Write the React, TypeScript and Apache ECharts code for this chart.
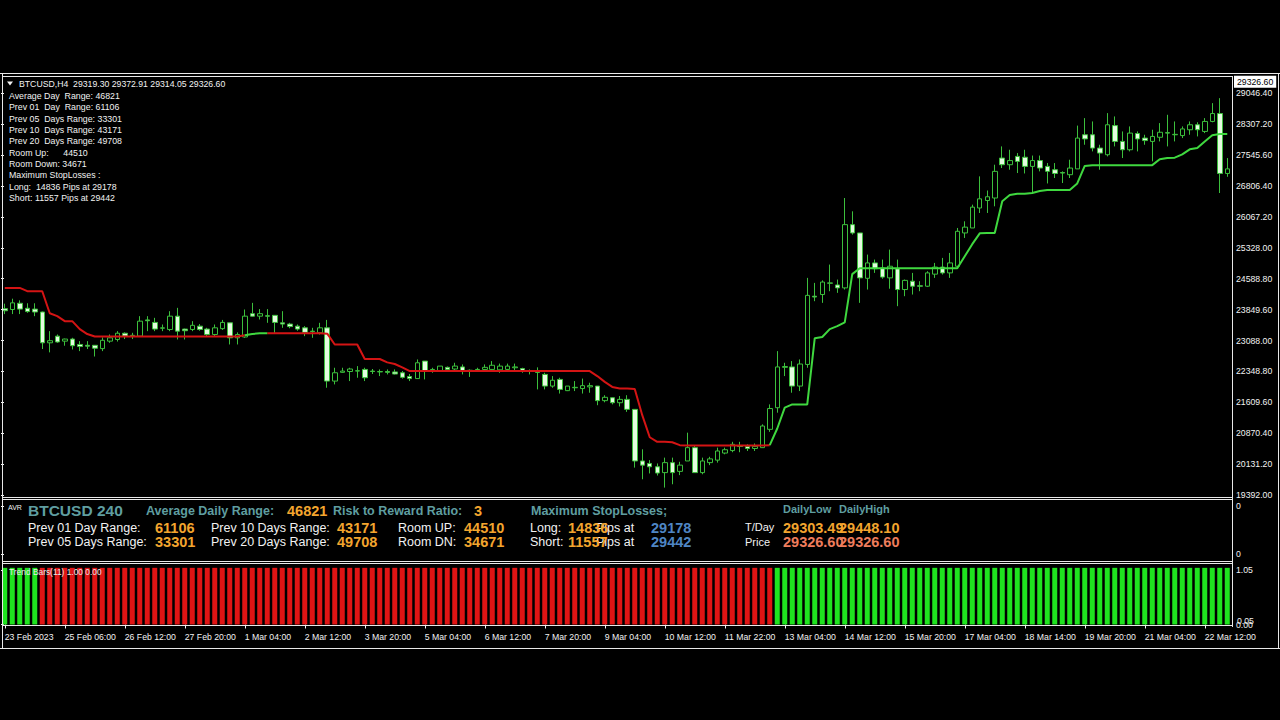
import { useEffect, useRef } from 'react';
import * as echarts from 'echarts';

// ---- instrument / last bar ----
const symbolName = 'BTCUSD';
const periodName = 'H4';
const periodMinutes = 240;
const lastBar = [29319.3, 29372.91, 29314.05, 29326.6]; // open, high, low, close

// ---- time axis: one label every 8 bars ----
const labelEvery = 8;
const timeLabels = [
  '23 Feb 2023', '25 Feb 06:00', '26 Feb 12:00', '27 Feb 20:00', '1 Mar 04:00', '2 Mar 12:00',
  '3 Mar 20:00', '5 Mar 04:00', '6 Mar 12:00', '7 Mar 20:00', '9 Mar 04:00', '10 Mar 12:00',
  '11 Mar 22:00', '13 Mar 04:00', '14 Mar 12:00', '15 Mar 20:00', '17 Mar 04:00', '18 Mar 14:00',
  '19 Mar 20:00', '21 Mar 04:00', '22 Mar 12:00',
];

// ---- price scale labels (bottom to top) ----
const priceTicks = [
  '19392.00', '20131.20', '20870.40', '21609.60', '22348.80', '23088.00', '23849.60',
  '24588.80', '25328.00', '26067.20', '26806.40', '27545.60', '28307.20', '29046.40',
];

// ---- candles ----
const opens = [
  23870, 23850, 24000, 23880, 23860, 23790, 23050, 23210, 23090, 23140, 23010, 22990, 22990, 22910, 23090, 23130,
  23280, 23220, 23210, 23600, 23540, 23400, 23370, 23690, 23380, 23370, 23450, 23380, 23250, 23390, 23530, 23170,
  23190, 23750, 23690, 23700, 23710, 23530, 23500, 23450, 23410, 23330, 23290, 23410, 22130, 22340, 22360, 22370,
  22410, 22370, 22350, 22360, 22350, 22330, 22240, 22190, 22610, 22400, 22380, 22460, 22420, 22470, 22390, 22400,
  22410, 22410, 22400, 22410, 22450, 22430, 22370, 22350, 22290, 22010, 22170, 21900, 21970, 21950, 21990, 22010,
  21660, 21730, 21610, 21690, 21450, 20210, 20150, 20070, 19930, 20170, 19960, 20210, 20530, 19930, 20170, 20230,
  20400, 20460, 20570, 20560, 20510, 20530, 20970, 21490, 22460, 22470, 22010, 22530, 24170, 24210, 24480, 24440,
  24370, 25890, 25690, 24600, 24970, 24850, 24610, 24830, 24330, 24530, 24420, 24410, 24700, 24870, 24730, 24890,
  25690, 25810, 26290, 26470, 26530, 27490, 27330, 27530, 27510, 27290, 27430, 27290, 27210, 27140, 27090, 27230,
  28050, 28050, 27730, 27570, 28270, 27890, 27690, 28080, 27970, 27890, 27990, 28100, 28050, 28030, 28170, 28290,
  28130, 28370, 28560, 27120,
];
const highs = [
  23990, 24110, 24070, 24000, 24000, 23800, 23330, 23250, 23150, 23170, 23090, 23090, 22990, 23180, 23250, 23330,
  23300, 23290, 23690, 23690, 23650, 23490, 23810, 23890, 23390, 23570, 23500, 23410, 23490, 23600, 23530, 23300,
  23850, 24010, 23860, 23860, 23710, 23810, 23530, 23490, 23450, 23410, 23530, 23600, 22450, 22450, 22450, 22490,
  22450, 22420, 22410, 22410, 22410, 22370, 22300, 22650, 22610, 22450, 22490, 22480, 22570, 22530, 22410, 22450,
  22530, 22610, 22550, 22550, 22550, 22450, 22410, 22460, 22330, 22250, 22210, 22010, 22130, 22190, 22090, 22010,
  21790, 21740, 21770, 21790, 21450, 20490, 20230, 20150, 20290, 20290, 20190, 20890, 20570, 20290, 20310, 20530,
  20530, 20670, 20670, 20610, 20630, 21090, 21570, 22850, 22570, 22610, 22650, 24610, 24490, 24550, 24930, 24570,
  26530, 26210, 25690, 25170, 25050, 25050, 25290, 25050, 24570, 24730, 24530, 24770, 24970, 25090, 25210, 25810,
  25970, 26370, 27050, 26710, 27330, 27770, 27690, 27610, 27690, 27550, 27550, 27370, 27370, 27170, 27450, 28270,
  28450, 28370, 27810, 28570, 28490, 28130, 28250, 28130, 28050, 28170, 28330, 28530, 28370, 28250, 28370, 28350,
  28450, 28810, 28930, 27490,
];
const lows = [
  23740, 23740, 23740, 23770, 23690, 22900, 22820, 23050, 22980, 22890, 22850, 22900, 22720, 22850, 23050, 23080,
  23140, 23140, 23190, 23330, 23330, 23330, 23330, 23130, 23130, 23330, 23340, 23210, 23210, 23360, 23010, 23010,
  23170, 23680, 23610, 23530, 23290, 23410, 23400, 23340, 23210, 23170, 23250, 21970, 22050, 22330, 22130, 22210,
  22130, 22300, 22250, 22290, 22290, 22190, 22130, 22190, 22170, 22330, 22370, 22390, 22350, 22290, 22230, 22370,
  22390, 22370, 22330, 22370, 22390, 22330, 22290, 21930, 21930, 21970, 21830, 21890, 21890, 21830, 21850, 21550,
  21620, 21570, 21520, 21390, 20050, 19770, 19910, 19860, 19570, 19650, 19870, 20210, 19930, 19890, 20110, 20170,
  20370, 20420, 20420, 20450, 20450, 20530, 20910, 21370, 22250, 21850, 21890, 22450, 24050, 24010, 24290, 24250,
  24330, 25650, 24010, 24330, 24730, 24590, 24350, 23930, 24170, 24210, 24290, 24390, 24610, 24690, 24610, 24850,
  25570, 25810, 26170, 26170, 26330, 27250, 27210, 27130, 27120, 26640, 27170, 26880, 27010, 26890, 27010, 27230,
  27810, 27650, 27210, 27530, 27770, 27490, 27650, 27650, 27810, 27410, 27890, 27770, 27890, 27970, 28050, 28010,
  28090, 28350, 26650, 27040,
];
const closes = [
  23820, 24010, 23860, 23800, 23790, 23050, 23100, 23070, 23140, 22980, 22960, 22970, 22920, 23110, 23170, 23280,
  23210, 23230, 23570, 23580, 23380, 23410, 23690, 23330, 23340, 23470, 23370, 23250, 23410, 23540, 23170, 23250,
  23690, 23690, 23750, 23690, 23540, 23500, 23440, 23380, 23300, 23320, 23410, 22130, 22330, 22370, 22420, 22380,
  22210, 22360, 22360, 22340, 22300, 22220, 22190, 22570, 22380, 22410, 22490, 22410, 22490, 22380, 22380, 22410,
  22460, 22510, 22490, 22490, 22470, 22380, 22360, 22340, 22010, 22150, 21930, 22010, 21980, 22020, 22020, 21660,
  21740, 21610, 21690, 21450, 20210, 20110, 20070, 19920, 20170, 19930, 20110, 20530, 19930, 20210, 20260, 20450,
  20480, 20610, 20560, 20510, 20560, 21050, 21470, 22470, 22480, 22010, 22540, 24190, 24150, 24510, 24490, 24370,
  25890, 25690, 24610, 24970, 24830, 24630, 24890, 24330, 24550, 24410, 24410, 24730, 24870, 24730, 24970, 25730,
  25830, 26310, 26510, 26560, 27170, 27330, 27430, 27410, 27290, 27430, 27250, 27170, 27120, 27130, 27250, 27970,
  27950, 27730, 27610, 28290, 27890, 27690, 28090, 27950, 27910, 28010, 28110, 28090, 28060, 28190, 28290, 28170,
  28370, 28560, 27120, 27230,
];

// ---- trend stop line (one level per bar) ----
const trendLine = [
  24370, 24370, 24370, 24290, 24290, 24290, 23760, 23690, 23570, 23570, 23380, 23260, 23200, 23200, 23200, 23200,
  23200, 23200, 23200, 23200, 23200, 23200, 23200, 23200, 23200, 23200, 23200, 23200, 23200, 23200, 23200, 23200,
  23230, 23260, 23280, 23280, 23280, 23280, 23280, 23280, 23280, 23280, 23280, 23270, 23010, 23010, 23010, 23010,
  22660, 22660, 22660, 22580, 22540, 22460, 22370, 22370, 22370, 22370, 22370, 22370, 22370, 22370, 22370, 22370,
  22370, 22370, 22370, 22370, 22370, 22370, 22370, 22370, 22370, 22370, 22370, 22370, 22370, 22370, 22370, 22250,
  22110, 21990, 21950, 21950, 21940, 21310, 20780, 20670, 20670, 20660, 20590, 20580, 20580, 20580, 20580, 20580,
  20580, 20580, 20580, 20580, 20580, 20580, 20590, 20990, 21490, 21570, 21570, 21570, 23160, 23190, 23380, 23450,
  23540, 24700, 24840, 24840, 24840, 24840, 24840, 24840, 24840, 24840, 24840, 24840, 24840, 24840, 24840, 24840,
  25130, 25420, 25680, 25690, 25690, 26450, 26600, 26630, 26630, 26650, 26700, 26720, 26720, 26720, 26720, 26880,
  27300, 27320, 27320, 27320, 27320, 27320, 27320, 27320, 27320, 27320, 27460, 27490, 27500, 27580, 27700, 27730,
  27890, 28040, 28070, 28070,
];
const lineDownRanges = [[0, 32], [35, 102]];
const lineUpRanges = [[32, 35], [102, 163]];

// ---- Trend Bars(11) state: up ranges, everything else down ----
const trendUpRanges = [[0, 4], [103, 163]];
const trendBarsParams = 'Trend Bars(11) 1.00 0.00';

// ---- range statistics ----
const avgDayRange = 46821;
const prevRangeDays = ['01', '05', '10', '20'];
const prevRanges = [61106, 33301, 43171, 49708];
const roomUp = 44510;
const roomDown = 34671;
const riskReward = 3;
const stopLong = [14836, 29178]; // pips, price
const stopShort = [11557, 29442];
const dailyLowHigh = [29303.49, 29448.1];
const priceLowHigh = [29326.6, 29326.6];

const inRanges = (i: number, ranges: number[][]) => ranges.some(([a, b]) => i >= a && i <= b);
const categories = opens.map((_, i) => (i % labelEvery === 0 ? timeLabels[i / labelEvery] ?? '' : ''));

const SANS = '"Liberation Sans", Arial, sans-serif';
const WHITE = '#f2f2f2';
const TEAL = '#5f9ea0';
const ORANGE = '#f3a52e';
const BLUE = '#4f86c4';
const CORAL = '#ef7d5c';
const CANDLE_GREEN = '#3cbf3c';

function txt(x: number, y: number, text: string, font: string, fill: string, extra: any = {}) {
  return {
    type: 'text',
    x,
    y,
    z: 10,
    silent: true,
    style: { text, font, fill, verticalAlign: 'middle', ...extra },
  };
}

function hline(x1: number, x2: number, y: number) {
  return {
    type: 'line',
    z: 5,
    silent: true,
    shape: { x1, y1: y, x2, y2: y },
    style: { stroke: '#e8e8e8', lineWidth: 1 },
  };
}
function vline(x: number, y1: number, y2: number) {
  return {
    type: 'line',
    z: 5,
    silent: true,
    shape: { x1: x, y1, x2: x, y2 },
    style: { stroke: '#e8e8e8', lineWidth: 1 },
  };
}

function buildOption() {
  const candleData = opens.map((o, i) => [o, closes[i], lows[i], highs[i]]);
  const downLine = trendLine.map((v, i) => (inRanges(i, lineDownRanges) ? v : null));
  const upLine = trendLine.map((v, i) => (inRanges(i, lineUpRanges) ? v : null));
  const trendBars = opens.map((_, i) => ({
    value: 1,
    itemStyle: { color: inRanges(i, trendUpRanges) ? '#1fe41f' : '#e01414' },
  }));

  // price axis geometry: label 0 sits at y=495, label 13 at y=93.3
  const labelBottomY = 495;
  const labelTopY = 93.3;
  const mainTop = 76;
  const mainBottom = 497;
  const pLow = parseFloat(priceTicks[0]);
  const pHigh = parseFloat(priceTicks[priceTicks.length - 1]);
  const perPx = (pHigh - pLow) / (labelBottomY - labelTopY);
  const priceMin = pLow - (mainBottom - labelBottomY) * perPx;
  const priceMax = pHigh + (labelTopY - mainTop) * perPx;

  const axisText = { color: WHITE, fontSize: 8.7, fontFamily: SANS };
  const hiddenX = (gridIndex: number) => ({ type: 'value', gridIndex, show: false, min: 0, max: 1 });

  const statsLeft = [
    `Average Day\u00a0\u00a0Range: ${avgDayRange}`,
    ...prevRangeDays.map(
      (d, k) => `Prev ${d}\u00a0\u00a0${d === '01' ? 'Day\u00a0\u00a0' : 'Days '}Range: ${prevRanges[k]}`
    ),
    `Room Up:\u00a0\u00a0\u00a0\u00a0\u00a0\u00a0${roomUp}`,
    `Room Down: ${roomDown}`,
    'Maximum StopLosses :',
    `Long:\u00a0\u00a0${stopLong[0]} Pips at ${stopLong[1]}`,
    `Short: ${stopShort[0]} Pips at ${stopShort[1]}`,
  ];
  const statsY = [96, 107.3, 118.7, 130.1, 141.4, 152.7, 164, 175.2, 186.5, 197.8];

  const R = `12.5px ${SANS}`;
  const B = `bold 12.5px ${SANS}`;
  const N = `bold 14.5px ${SANS}`;
  const r1 = 510.5;
  const r2 = 528;
  const r3 = 541.5;

  const graphic: any[] = [
    // window frame and sub-window separators
    hline(0, 1280, 73.5),
    hline(0, 1280, 648.5),
    vline(2.5, 73, 649),
    vline(1278.5, 73, 649),
    hline(2, 1232, 76.5),
    vline(1232.5, 76, 627),
    hline(2, 1232, 497.5),
    hline(2, 1232, 499.5),
    hline(2, 1232, 561.5),
    hline(2, 1232, 563.5),
    hline(2, 1232, 625.5),
    // chart header + comment block
    {
      type: 'polygon',
      z: 10,
      silent: true,
      shape: { points: [[7, 81.5], [13, 81.5], [10, 85.5]] },
      style: { fill: WHITE },
    },
    txt(19, 84, `${symbolName},${periodName}\u00a0\u00a0${lastBar.map((v) => v.toFixed(2)).join(' ')}`, `8.7px ${SANS}`, WHITE),
    ...statsLeft.map((s, k) => txt(9, statsY[k], s, `8.8px ${SANS}`, WHITE)),
    // AVR panel
    txt(8, 507, 'AVR', `7px ${SANS}`, WHITE),
    txt(28, r1, `${symbolName} ${periodMinutes}`, `bold 15.5px ${SANS}`, TEAL),
    txt(146, r1, 'Average Daily Range:', B, TEAL),
    txt(287, r1, String(avgDayRange), N, ORANGE),
    txt(333, r1, 'Risk to Reward Ratio:', B, TEAL),
    txt(474, r1, String(riskReward), N, ORANGE),
    txt(28, r2, `Prev ${prevRangeDays[0]} Day Range:`, R, WHITE),
    txt(155, r2, String(prevRanges[0]), N, ORANGE),
    txt(28, r3, `Prev ${prevRangeDays[1]} Days Range:`, R, WHITE),
    txt(155, r3, String(prevRanges[1]), N, ORANGE),
    txt(211, r2, `Prev ${prevRangeDays[2]} Days Range:`, R, WHITE),
    txt(337, r2, String(prevRanges[2]), N, ORANGE),
    txt(211, r3, `Prev ${prevRangeDays[3]} Days Range:`, R, WHITE),
    txt(337, r3, String(prevRanges[3]), N, ORANGE),
    txt(398, r2, 'Room UP:', R, WHITE),
    txt(464, r2, String(roomUp), N, ORANGE),
    txt(398, r3, 'Room DN:', R, WHITE),
    txt(464, r3, String(roomDown), N, ORANGE),
    txt(531, r1, 'Maximum StopLosses;', B, TEAL),
    txt(530, r2, 'Long:', R, WHITE),
    txt(596, r2, 'Pips at', R, WHITE),
    txt(568, r2, String(stopLong[0]), N, ORANGE),
    txt(651, r2, String(stopLong[1]), N, BLUE),
    txt(530, r3, 'Short:', R, WHITE),
    txt(596, r3, 'Pips at', R, WHITE),
    txt(568, r3, String(stopShort[0]), N, ORANGE),
    txt(651, r3, String(stopShort[1]), N, BLUE),
    txt(783, 509, 'DailyLow', `bold 11px ${SANS}`, TEAL),
    txt(839, 509, 'DailyHigh', `bold 11px ${SANS}`, TEAL),
    txt(745, r2 - 1, 'T/Day', `11px ${SANS}`, WHITE),
    txt(745, r3, 'Price', `11px ${SANS}`, WHITE),
    txt(783, r2, dailyLowHigh[0].toFixed(2), N, ORANGE),
    txt(839, r2, dailyLowHigh[1].toFixed(2), N, ORANGE),
    txt(783, r3, priceLowHigh[0].toFixed(2), N, CORAL),
    txt(839, r3, priceLowHigh[1].toFixed(2), N, CORAL),
    // trend bars panel caption and overlapping scale text
    txt(9, 571.5, trendBarsParams, `8.4px ${SANS}`, '#e8e8e8'),
    txt(1237, 620.5, '0.05', `8.7px ${SANS}`, WHITE),
  ];

  return {
    animation: false,
    backgroundColor: '#000',
    graphic,
    grid: [
      { left: 1, width: 1230, top: mainTop, height: mainBottom - mainTop },
      { left: 1, width: 1231, top: labelTopY, height: labelBottomY - labelTopY },
      { left: 1, width: 1231, top: 506, height: 48 },
      { left: 1, width: 1230, top: 565, height: 59.5 },
      { left: 1, width: 1231, top: 570, height: 54.5 },
    ],
    xAxis: [
      { type: 'category', gridIndex: 0, data: categories, show: false, boundaryGap: true },
      hiddenX(1),
      hiddenX(2),
      {
        type: 'category',
        gridIndex: 3,
        data: categories,
        boundaryGap: true,
        axisLine: { show: false },
        axisTick: {
          show: true,
          interval: labelEvery - 1,
          alignWithLabel: true,
          length: 4,
          lineStyle: { color: WHITE },
        },
        axisLabel: { ...axisText, interval: labelEvery - 1, align: 'left', margin: 8 },
        splitLine: { show: false },
      },
      hiddenX(4),
    ],
    yAxis: [
      { type: 'value', gridIndex: 0, min: priceMin, max: priceMax, show: false, scale: true },
      {
        type: 'value',
        gridIndex: 1,
        position: 'right',
        min: 0,
        max: priceTicks.length - 1,
        interval: 1,
        axisLine: { show: false },
        axisTick: { show: true, length: 3, lineStyle: { color: WHITE } },
        axisLabel: { ...axisText, margin: 4, formatter: (v: number) => priceTicks[Math.round(v)] ?? '' },
        splitLine: { show: false },
      },
      {
        type: 'value',
        gridIndex: 2,
        position: 'right',
        min: 0,
        max: 1,
        interval: 1,
        axisLine: { show: false },
        axisTick: { show: true, length: 3, lineStyle: { color: WHITE } },
        axisLabel: { ...axisText, margin: 4, formatter: () => '0' },
        splitLine: { show: false },
      },
      { type: 'value', gridIndex: 3, min: 0, max: 1.05, show: false },
      {
        type: 'value',
        gridIndex: 4,
        position: 'right',
        min: 0,
        max: 1,
        interval: 1,
        axisLine: { show: false },
        axisTick: { show: true, length: 3, lineStyle: { color: WHITE } },
        axisLabel: { ...axisText, margin: 4, formatter: (v: number) => (v >= 1 ? '1.05' : '0.00') },
        splitLine: { show: false },
      },
    ],
    series: [
      {
        type: 'candlestick',
        xAxisIndex: 0,
        yAxisIndex: 0,
        data: candleData,
        barWidth: 5,
        itemStyle: {
          color: '#000000',
          color0: '#e4fbe0',
          borderColor: CANDLE_GREEN,
          borderColor0: CANDLE_GREEN,
          borderWidth: 1,
        },
        z: 3,
      },
      {
        type: 'line',
        xAxisIndex: 0,
        yAxisIndex: 0,
        data: downLine,
        showSymbol: false,
        connectNulls: false,
        lineStyle: { color: '#d41414', width: 2 },
        z: 4,
      },
      {
        type: 'line',
        xAxisIndex: 0,
        yAxisIndex: 0,
        data: upLine,
        showSymbol: false,
        connectNulls: false,
        clip: false,
        lineStyle: { color: '#3fd83f', width: 2 },
        z: 4,
        // last close tag on the price scale
        markLine: {
          silent: true,
          symbol: ['none', 'none'],
          lineStyle: { color: 'rgba(0,0,0,0)', width: 1, type: 'solid' },
          label: {
            show: true,
            position: 'end',
            distance: 3,
            formatter: lastBar[3].toFixed(2),
            backgroundColor: '#ffffff',
            color: '#000000',
            fontSize: 8.7,
            fontFamily: SANS,
            padding: [2, 3, 1, 3],
          },
          data: [{ yAxis: lastBar[3] }],
        },
      },
      {
        type: 'bar',
        xAxisIndex: 3,
        yAxisIndex: 3,
        data: trendBars,
        barWidth: 5,
        z: 2,
      },
    ],
  };
}

export default function App() {
  const ref = useRef<HTMLDivElement>(null);
  useEffect(() => {
    if (!ref.current) return;
    const chart = echarts.init(ref.current, undefined, { renderer: 'svg' });
    chart.setOption(buildOption() as any);
    return () => chart.dispose();
  }, []);
  return (
    <div
      ref={ref}
      style={{ position: 'fixed', left: 0, top: 0, width: 1280, height: 720, background: '#000' }}
    />
  );
}
